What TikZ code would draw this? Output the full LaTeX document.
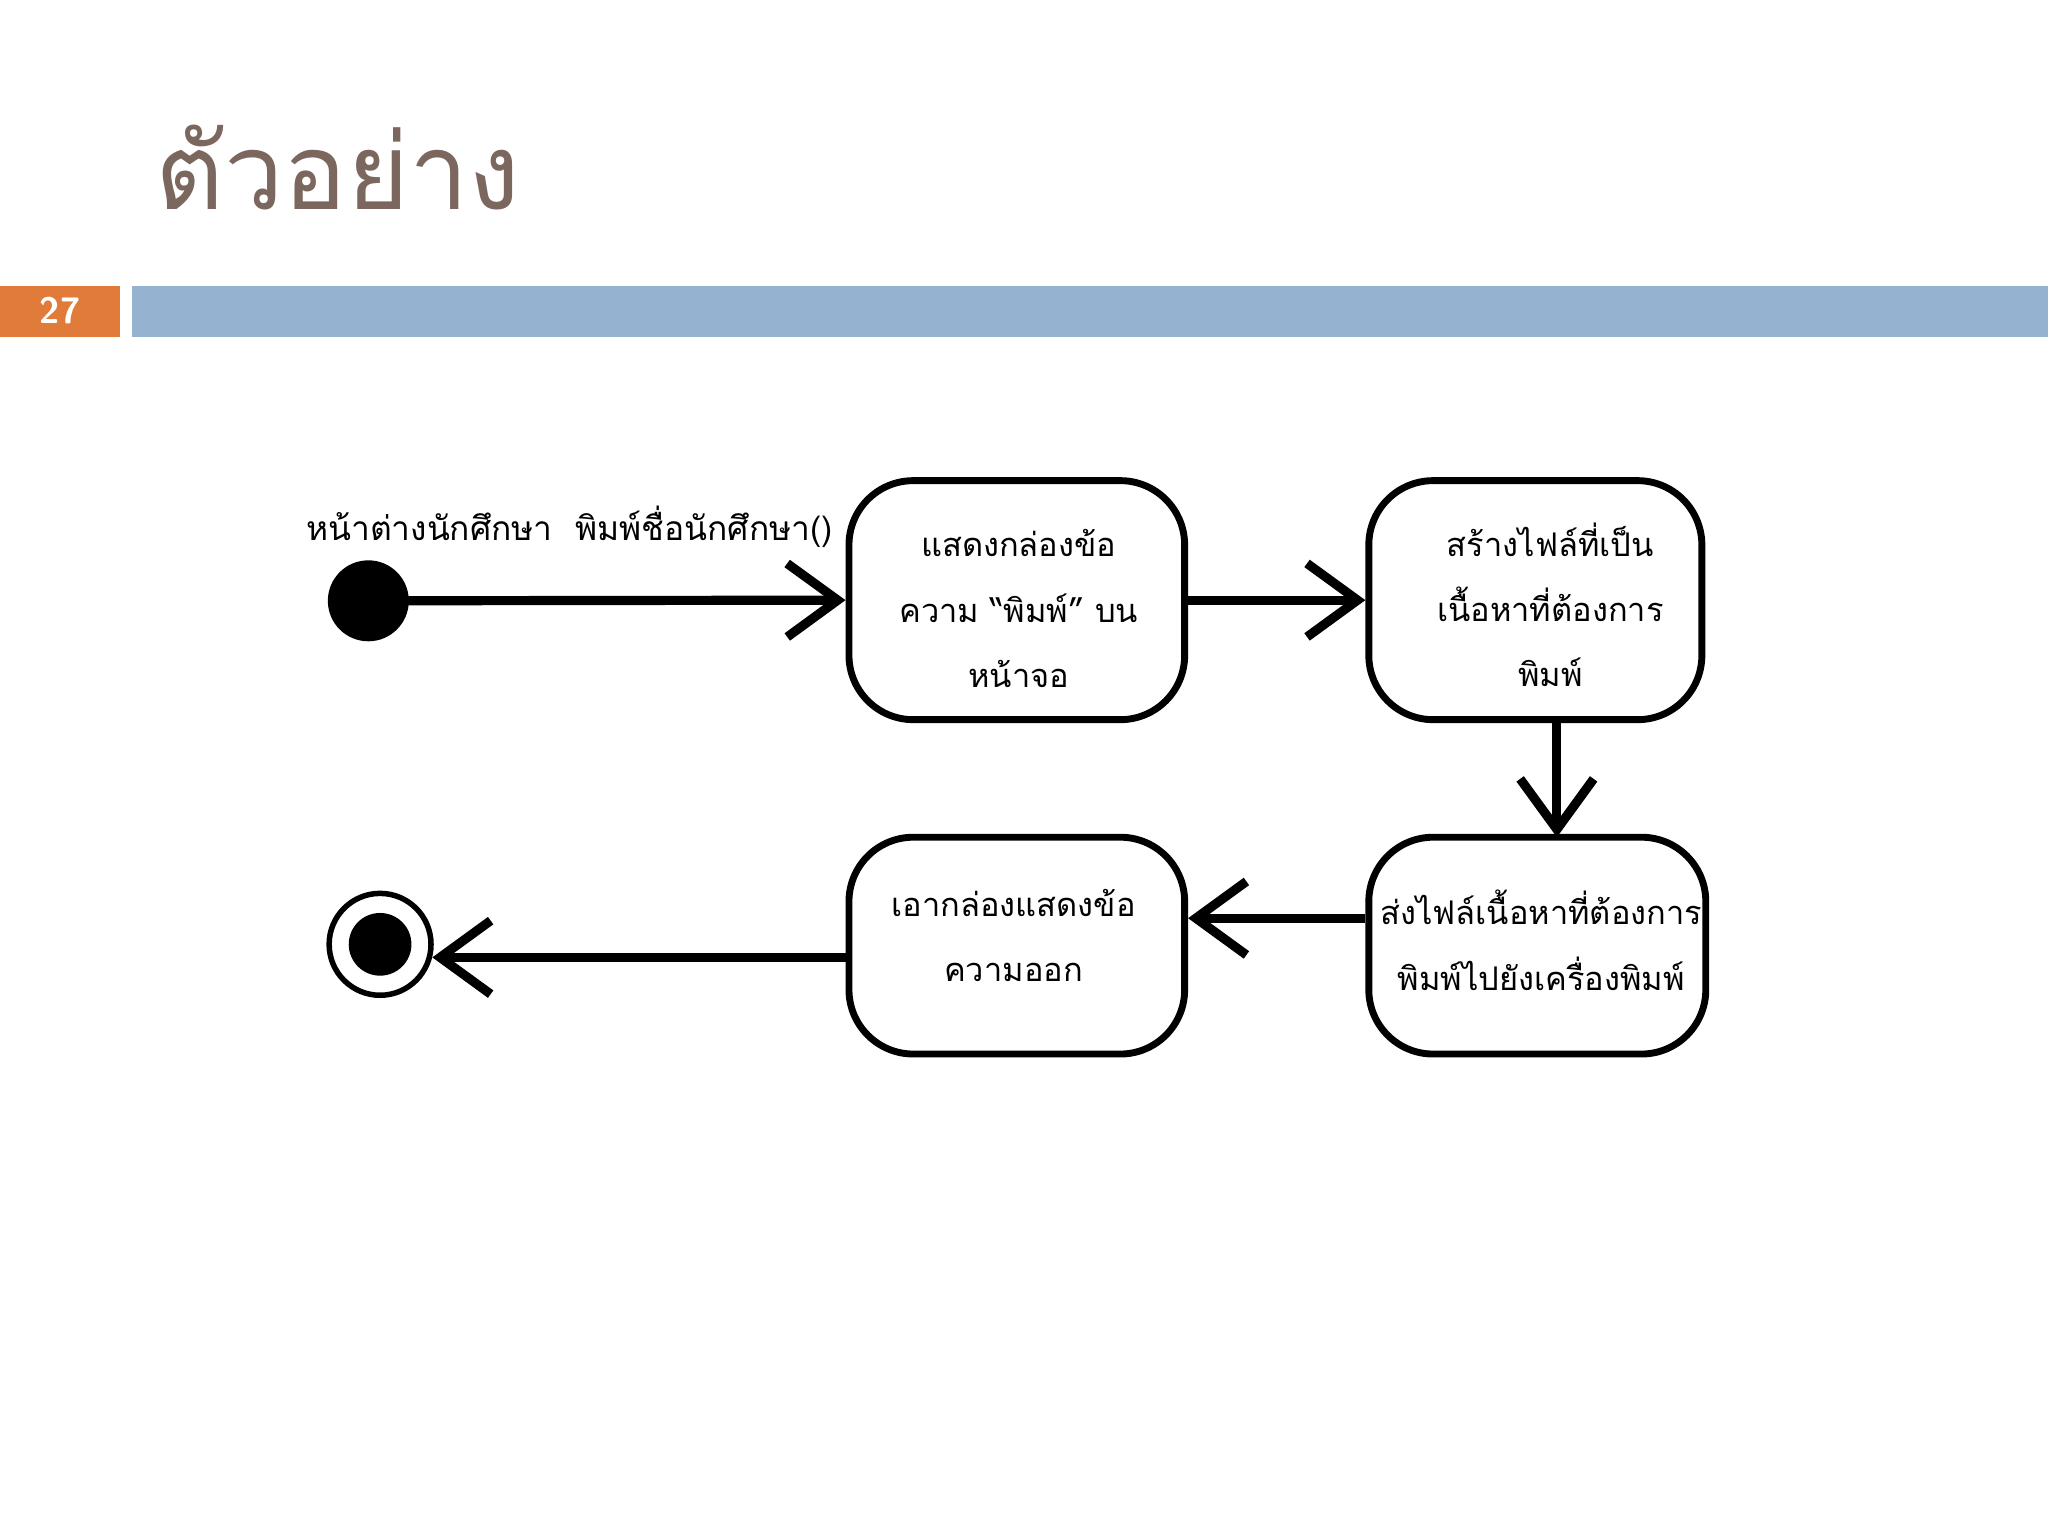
\documentclass[tikz,border=0pt]{standalone}
\usepackage{fontspec}
\newfontfamily\thaifont[Script=Thai]{Loma}
\usetikzlibrary{arrows.meta}
\definecolor{titlec}{HTML}{7B675E}
\definecolor{barblue}{HTML}{95B3D0}
\definecolor{barorange}{HTML}{E07B39}
\begin{document}
\begin{tikzpicture}[x=0.01cm,y=-0.01cm,
 state/.style={draw,line width=1.5pt,rounded corners=14pt,inner sep=0pt},
 txt/.style={font=\thaifont\fontsize{7.1}{14.2}\selectfont,align=center},
 flow/.style={line width=2pt,-{Straight Barb[length=11pt,width=16pt,line width=2pt]}}]
\useasboundingbox (0,0) rectangle (1568,1176);
\fill[white] (0,0) rectangle (1568,1176);
\node[anchor=west,text=titlec,font=\thaifont\fontsize{23}{28}\selectfont] (title) at (107,128) {ตัวอย่าง};
\fill[barorange] (0,219) rectangle (92,258);
\node[text=white,font=\sffamily\bfseries\fontsize{8}{10}\selectfont] (num) at (46,238) {27};
\fill[barblue] (101,219) rectangle (1568,258);
\fill (282,460) circle (31);
\coordinate (st) at (282,460);
\node[state,minimum width=257*0.01cm,minimum height=183*0.01cm] (b1) at (778.5,459.5) {};
\node[txt] at (780,466) {แสดงกล่องข้อ\\ความ “พิมพ์” บน\\หน้าจอ};
\node[state,minimum width=255*0.01cm,minimum height=183*0.01cm] (b2) at (1175.5,459.5) {};
\node[txt] at (1187,463) {สร้างไฟล์ที่เป็น\\เนื้อหาที่ต้องการ\\พิมพ์};
\node[state,minimum width=258*0.01cm,minimum height=166*0.01cm] (b3) at (1177,724) {};
\node[txt] at (1180,720) {ส่งไฟล์เนื้อหาที่ต้องการ\\พิมพ์ไปยังเครื่องพิมพ์};
\node[state,minimum width=257*0.01cm,minimum height=166*0.01cm] (b4) at (778.5,724) {};
\node[txt] at (776,716) {เอากล่องแสดงข้อ\\ความออก};
\draw[line width=1.2pt] (291,723) circle (39);
\fill (291,723) circle (24);
\coordinate (fin) at (331,733);
\draw[flow] (st) -- (b1.west);
\draw[flow] (b1.east) -- (b2.west);
\draw[flow] (1192,551) -- (1192,641);
\draw[flow] (b3.west |- 0,703) -- (b4.east |- 0,703);
\draw[flow] (b4.west |- 0,733) -- (fin);
\node[font=\thaifont\fontsize{7.3}{10}\selectfont,anchor=west] (lab) at (222,403) {หน้าต่างนักศึกษา\ \ พิมพ์ชื่อนักศึกษา()};
\end{tikzpicture}
\end{document}
